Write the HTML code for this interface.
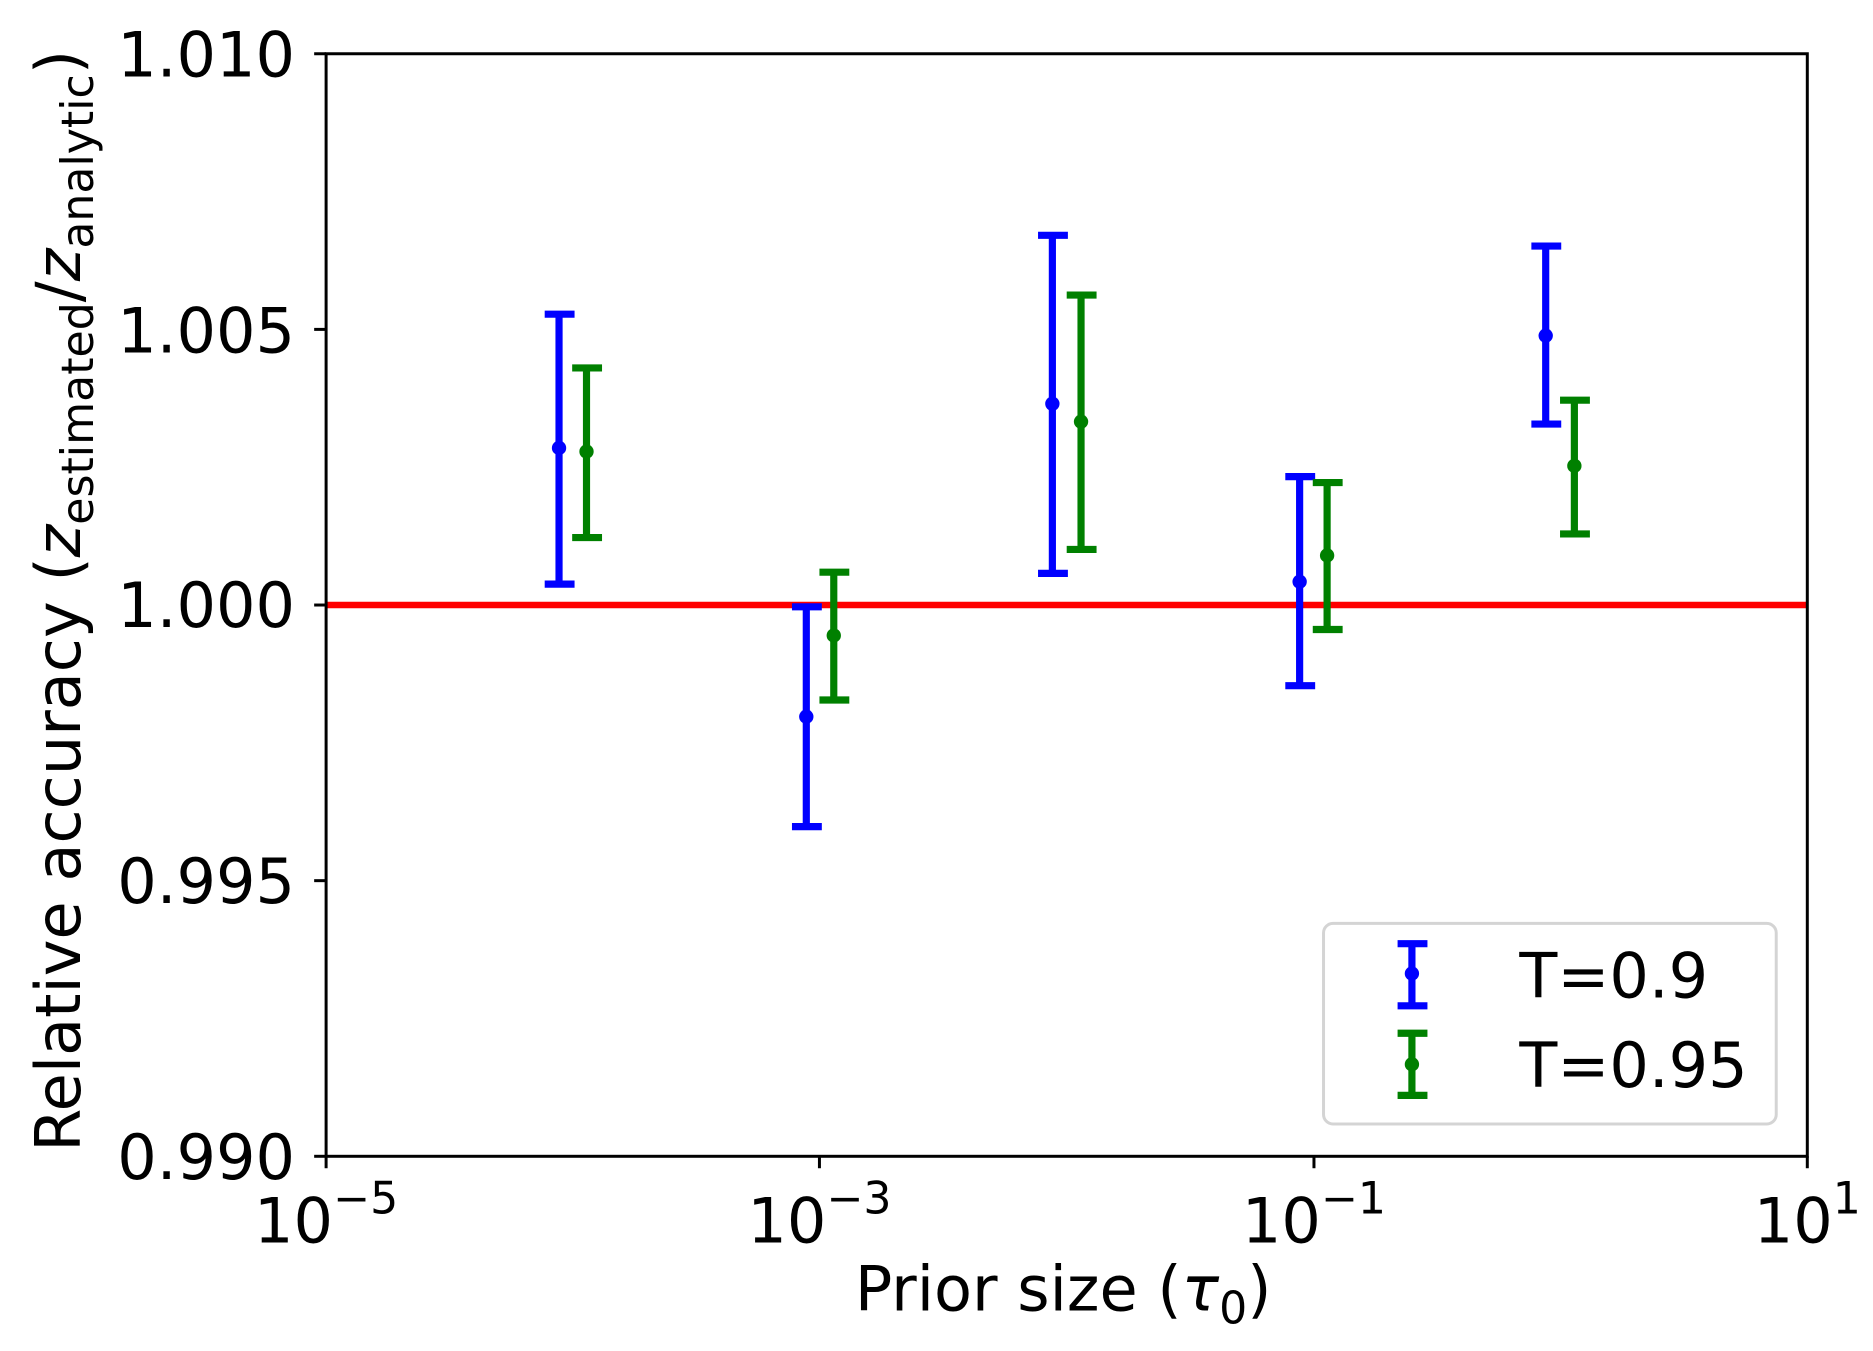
<!DOCTYPE html>
<html><head><meta charset="utf-8"><style>html,body{margin:0;padding:0;background:#fff}svg{display:block}</style></head>
<body>
<svg width="1873" height="1351" viewBox="0 0 1568 1131" xmlns="http://www.w3.org/2000/svg" font-family="DejaVu Sans, Liberation Sans, sans-serif">
<rect width="1568" height="1131" fill="#fff"/>
<line x1="273" y1="506.5" x2="1513" y2="506.5" stroke="#ff0000" stroke-width="5.5"/>
<g stroke-width="6" fill="none">
<g stroke="#0000ff">
<path d="M468 263V489M456 263H481M456 489H481"/>
<path d="M675 508V692M663 508H688M663 692H688"/>
<path d="M881 197V480M869 197H894M869 480H894"/>
<path d="M1088 399V574M1076 399H1101M1076 574H1101"/>
<path d="M1294 206V355M1282 206H1307M1282 355H1307"/>
</g>
<g stroke="#008000">
<path d="M491 308V450M479 308H504M479 450H504"/>
<path d="M698 479V586M686 479H711M686 586H711"/>
<path d="M905 247V460M893 247H918M893 460H918"/>
<path d="M1111 404V527M1099 404H1124M1099 527H1124"/>
<path d="M1318 335V447M1306 335H1331M1306 447H1331"/>
</g>
</g>
<g fill="#0000ff">
<circle cx="468" cy="375" r="6"/><circle cx="675" cy="600" r="6"/><circle cx="881" cy="338" r="6"/><circle cx="1088" cy="487" r="6"/><circle cx="1294" cy="281" r="6"/>
</g>
<g fill="#008000">
<circle cx="491" cy="378" r="6"/><circle cx="698" cy="532" r="6"/><circle cx="905" cy="353" r="6"/><circle cx="1111" cy="465" r="6"/><circle cx="1318" cy="390" r="6"/>
</g>
<rect x="1108" y="773" width="379" height="168" rx="8" fill="#fff" fill-opacity="0.8" stroke="#d4d4d4" stroke-width="2.5"/>
<path d="M1182 790V842M1170 790H1195M1170 842H1195" stroke="#0000ff" stroke-width="6" fill="none"/>
<circle cx="1182" cy="815" r="6" fill="#0000ff"/>
<path d="M1182 865V917M1170 865H1195M1170 917H1195" stroke="#008000" stroke-width="6" fill="none"/>
<circle cx="1182" cy="891" r="6" fill="#008000"/>
<text x="1272" y="835" font-size="52">T=0.9</text>
<text x="1272" y="910" font-size="52">T=0.95</text>
<rect x="273" y="45" width="1240" height="923" fill="none" stroke="#000" stroke-width="2.5"/>
<g stroke="#000" stroke-width="2.5">
<line x1="263" y1="45" x2="273" y2="45"/><line x1="263" y1="275.75" x2="273" y2="275.75"/><line x1="263" y1="506.5" x2="273" y2="506.5"/><line x1="263" y1="737.25" x2="273" y2="737.25"/><line x1="263" y1="968" x2="273" y2="968"/>
<line x1="273" y1="968" x2="273" y2="978"/><line x1="686" y1="968" x2="686" y2="978"/><line x1="1100" y1="968" x2="1100" y2="978"/><line x1="1513" y1="968" x2="1513" y2="978"/>
</g>
<g font-size="52" text-anchor="end">
<text x="247" y="64">1.010</text>
<text x="247" y="295">1.005</text>
<text x="247" y="525">1.000</text>
<text x="247" y="756">0.995</text>
<text x="247" y="987">0.990</text>
</g>
<g font-size="52" text-anchor="middle">
<text x="273" y="1040">10<tspan font-size="37" dy="-24">−5</tspan></text>
<text x="686" y="1040">10<tspan font-size="37" dy="-24">−3</tspan></text>
<text x="1100" y="1040">10<tspan font-size="37" dy="-24">−1</tspan></text>
<text x="1513" y="1040">10<tspan font-size="37" dy="-24">1</tspan></text>
</g>
<text x="890" y="1097" font-size="52" text-anchor="middle">Prior size (<tspan font-style="italic">τ</tspan><tspan font-size="37" dy="11">0</tspan><tspan dy="-11">)</tspan></text>
<text transform="translate(67,503) rotate(-90)" font-size="52" text-anchor="middle">Relative accuracy (<tspan font-style="italic">z</tspan><tspan font-size="37" dy="11">estimated</tspan><tspan dy="-11">/</tspan><tspan font-style="italic">z</tspan><tspan font-size="37" dy="11">analytic</tspan><tspan dy="-11">)</tspan></text>
</svg>
</body></html>
